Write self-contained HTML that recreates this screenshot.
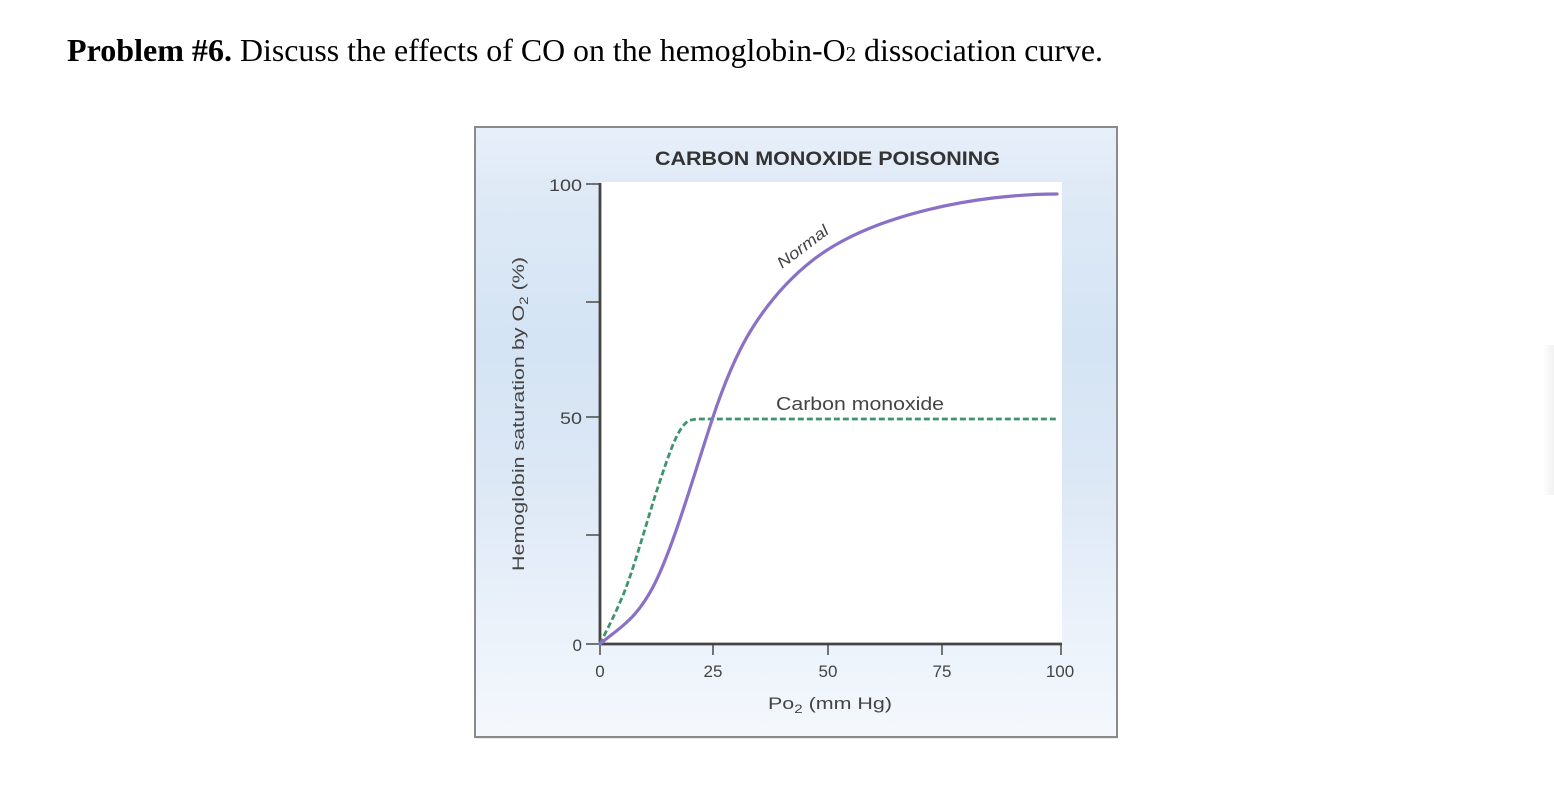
<!DOCTYPE html>
<html>
<head>
<meta charset="utf-8">
<style>
  html,body{margin:0;padding:0;background:#fff;}
  svg{display:block;}
</style>
</head>
<body>
<svg width="1554" height="786" viewBox="0 0 1554 786" xmlns="http://www.w3.org/2000/svg">
  <defs>
    <linearGradient id="bg" x1="0" y1="0" x2="0" y2="1">
      <stop offset="0" stop-color="#e7eff9"/>
      <stop offset="0.12" stop-color="#dee9f6"/>
      <stop offset="0.35" stop-color="#d4e4f4"/>
      <stop offset="0.55" stop-color="#dbe7f5"/>
      <stop offset="0.8" stop-color="#eaf1fa"/>
      <stop offset="1" stop-color="#f4f8fc"/>
    </linearGradient>
    <linearGradient id="edge" x1="0" y1="0" x2="1" y2="0">
      <stop offset="0" stop-color="#ffffff"/>
      <stop offset="1" stop-color="#f2f2f2"/>
    </linearGradient>
  </defs>
  <rect width="1554" height="786" fill="#ffffff"/>
  <rect x="1543" y="345" width="11" height="150" fill="url(#edge)"/>

  <!-- Header -->
  <text x="67" y="61" font-family="Liberation Serif, serif" font-size="32" font-weight="bold" fill="#000" textLength="165" lengthAdjust="spacingAndGlyphs">Problem #6.</text>
  <text x="240" y="61" font-family="Liberation Serif, serif" font-size="32" fill="#000" textLength="863" lengthAdjust="spacingAndGlyphs">Discuss the effects of CO on the hemoglobin-O<tspan font-size="21">2</tspan> dissociation curve.</text>

  <!-- Frame -->
  <rect x="476" y="129" width="642" height="610" fill="#d8d8d8" opacity="0.5"/>
  <rect x="475" y="127" width="642" height="610" fill="url(#bg)" stroke="#8a8a8a" stroke-width="2"/>

  <!-- Plot area -->
  <rect x="601" y="182" width="461" height="462" fill="#ffffff"/>

  <!-- Title -->
  <text x="655" y="165" font-family="Liberation Sans, Arial, sans-serif" font-size="19" font-weight="bold" fill="#333" textLength="345" lengthAdjust="spacingAndGlyphs">CARBON MONOXIDE POISONING</text>

  <!-- Y axis label -->
  <text transform="translate(524,571) rotate(-90)" x="0" y="0" font-family="Liberation Sans, Arial, sans-serif" font-size="17" fill="#444" textLength="314" lengthAdjust="spacingAndGlyphs">Hemoglobin saturation by O<tspan font-size="12" dy="4">2</tspan><tspan dy="-4"> (%)</tspan></text>

  <!-- Y ticks -->
  <g stroke="#555" stroke-width="1.6">
    <line x1="586" y1="184" x2="600" y2="184"/>
    <line x1="586" y1="302" x2="600" y2="302"/>
    <line x1="586" y1="417" x2="600" y2="417"/>
    <line x1="586" y1="535" x2="600" y2="535"/>
    <line x1="586" y1="644" x2="600" y2="644"/>
  </g>
  <!-- X ticks -->
  <g stroke="#555" stroke-width="1.6">
    <line x1="600" y1="644" x2="600" y2="655"/>
    <line x1="713" y1="644" x2="713" y2="655"/>
    <line x1="828" y1="644" x2="828" y2="655"/>
    <line x1="942" y1="644" x2="942" y2="655"/>
    <line x1="1061" y1="644" x2="1061" y2="655"/>
  </g>
  <!-- Axes -->
  <line x1="600" y1="183" x2="600" y2="645" stroke="#444" stroke-width="2.8"/>
  <line x1="599" y1="644" x2="1062" y2="644" stroke="#444" stroke-width="2.8"/>

  <!-- Y tick labels -->
  <g font-family="Liberation Sans, Arial, sans-serif" font-size="17" fill="#444" text-anchor="end">
    <text x="582" y="191" textLength="33" lengthAdjust="spacingAndGlyphs">100</text>
    <text x="582" y="424" textLength="22" lengthAdjust="spacingAndGlyphs">50</text>
    <text x="582" y="651">0</text>
  </g>
  <!-- X tick labels -->
  <g font-family="Liberation Sans, Arial, sans-serif" font-size="17" fill="#444" text-anchor="middle">
    <text x="600" y="677">0</text>
    <text x="713" y="677">25</text>
    <text x="828" y="677">50</text>
    <text x="942" y="677">75</text>
    <text x="1060" y="677">100</text>
  </g>
  <!-- X axis label -->
  <text x="768" y="709" font-family="Liberation Sans, Arial, sans-serif" font-size="17" fill="#444" textLength="124" lengthAdjust="spacingAndGlyphs">Po<tspan font-size="12" dy="4">2</tspan><tspan dy="-4"> (mm Hg)</tspan></text>

  <!-- Carbon monoxide curve (dashed) -->
  <path d="M600,644 C604.5,634.2 617.5,610.7 627,585 C636.5,559.3 649,514.2 657,490 C665,465.8 669.8,451.5 675,440 C680.2,428.5 683.8,424.5 688,421 C692,419.5 696,419 700,419 L1057,419"
        fill="none" stroke="#3f9470" stroke-width="2.8" stroke-dasharray="6,3"/>

  <!-- Normal curve -->
  <path d="M600,644 C618,628.7 635,621 653,587 C673,549 695,471 713,417 C724,384 736.3,353.2 753,327 C769.7,300.8 788.5,279 813,260 C873,213.5 980,194 1057,194"
        fill="none" stroke="#8a70c6" stroke-width="3.2" stroke-linecap="round"/>

  <!-- Labels -->
  <text x="776" y="410" font-family="Liberation Sans, Arial, sans-serif" font-size="18" fill="#444" textLength="168" lengthAdjust="spacingAndGlyphs">Carbon monoxide</text>
  <text transform="translate(806,251) rotate(-37)" x="0" y="0" text-anchor="middle" font-family="Liberation Sans, Arial, sans-serif" font-size="16" font-style="italic" fill="#444" textLength="60" lengthAdjust="spacingAndGlyphs">Normal</text>
</svg>
</body>
</html>
